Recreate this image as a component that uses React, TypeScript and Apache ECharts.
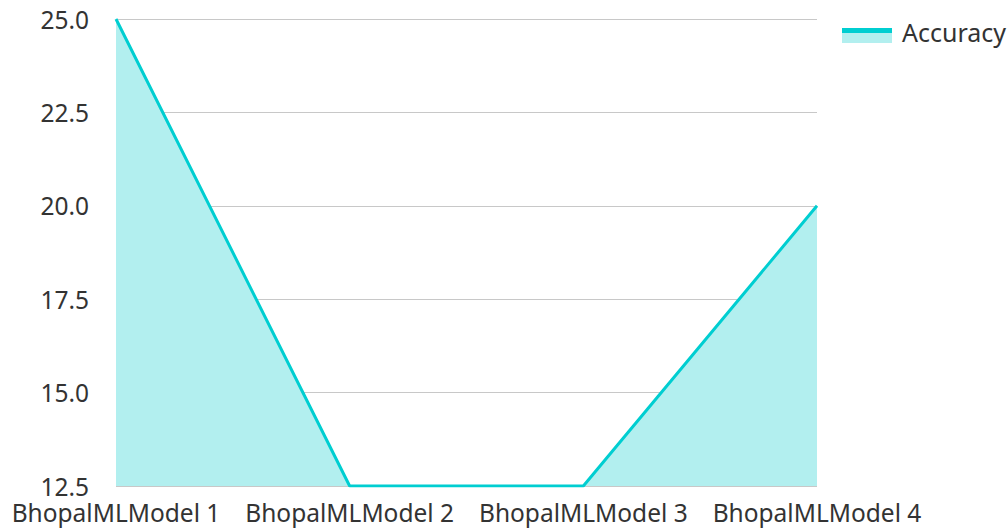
import React, { useEffect, useRef } from "react";
import * as echarts from "echarts";

const categories = ["BhopalMLModel 1", "BhopalMLModel 2", "BhopalMLModel 3", "BhopalMLModel 4"];
const accuracy = [25, 12.5, 12.5, 20];
const seriesName = "Accuracy";

export default function App() {
  const ref = useRef<HTMLDivElement>(null);
  useEffect(() => {
    document.body.style.margin = "0";
    const chart = echarts.init(ref.current!, null, { renderer: "svg" });
    const font = "'Noto Sans', sans-serif";
    const lineColor = "#00CED1";
    const areaColor = "rgb(178,239,239)";
    const fs = 24.5;
    chart.setOption({
      animation: false,
      textStyle: { fontFamily: font },
      grid: { left: 116, right: 190, top: 19, bottom: 42 },
      legend: {
        left: 842,
        top: 14,
        itemWidth: 50,
        itemHeight: 14,
        itemGap: 10,
        itemTextGap: 9,
        icon: "rect",
        itemStyle: { color: "rgba(0,0,0,0)", borderWidth: 0 },
        lineStyle: { width: 0, opacity: 0 },
        textStyle: { fontSize: 25, color: "#333", fontFamily: font },
        data: [seriesName],
      },
      graphic: [
        { type: "rect", left: 842, top: 28, shape: { width: 50, height: 5 }, style: { fill: lineColor } },
        { type: "rect", left: 842, top: 33, shape: { width: 50, height: 10 }, style: { fill: areaColor } },
      ],
      xAxis: {
        type: "category",
        data: categories,
        boundaryGap: false,
        axisLine: { show: false },
        axisTick: { show: false },
        axisLabel: { fontSize: fs, color: "#333", fontFamily: font, margin: 14, interval: 0 },
      },
      yAxis: {
        type: "value",
        min: 12.5,
        max: 25,
        interval: 2.5,
        axisLine: { show: false },
        axisTick: { show: false },
        axisLabel: {
          fontSize: fs,
          lineHeight: 24,
          color: "#333",
          fontFamily: font,
          margin: 27,
          formatter: (v: number) => v.toFixed(1),
        },
        splitLine: { lineStyle: { color: "#c8c8c8", width: 1 } },
      },
      series: [
        {
          name: seriesName,
          type: "line",
          data: accuracy,
          symbol: "none",
          lineStyle: { color: lineColor, width: 3 },
          itemStyle: { color: lineColor },
          areaStyle: { color: areaColor, opacity: 1, origin: "start" },
        },
      ],
    });
    return () => chart.dispose();
  }, []);
  return <div ref={ref} style={{ width: 1007, height: 528 }} />;
}
